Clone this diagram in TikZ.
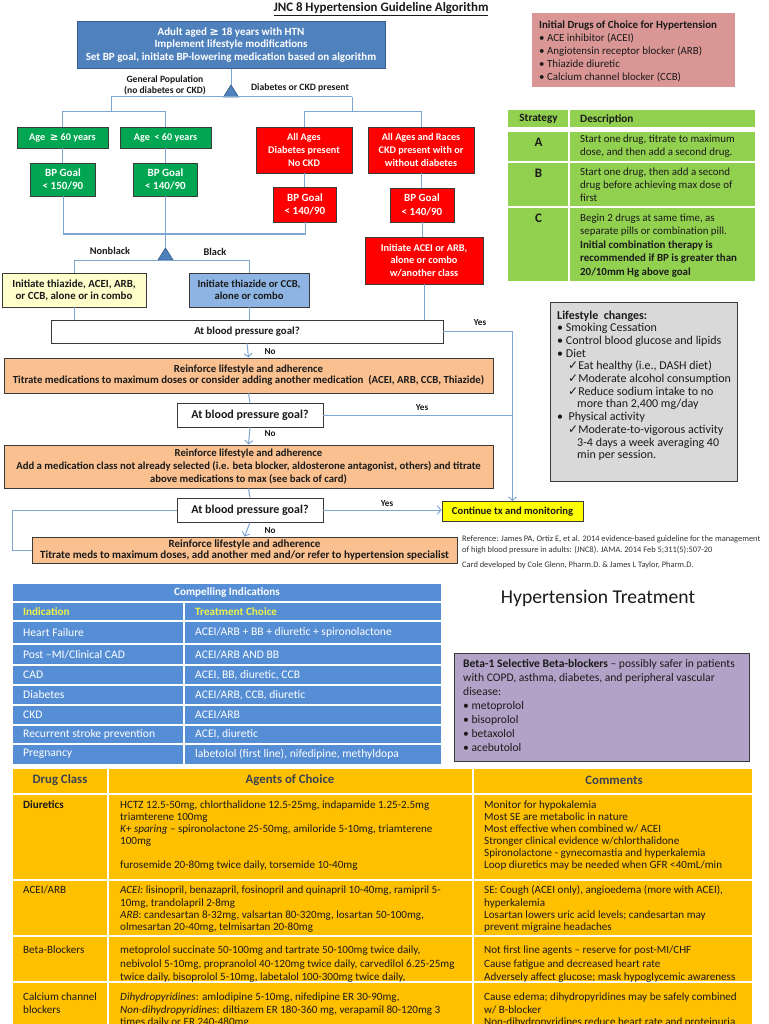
\documentclass[tikz,border=0pt]{standalone}
\usepackage{fontspec}
\setmainfont{Carlito}
\newfontfamily\symf{DejaVu Sans}
\usetikzlibrary{arrows.meta}
\newcommand\fsz[2]{\fontsize{#1}{#2}\selectfont}
\newcommand\ckm{{\symf ✓}}
\newcommand\gee{{\symf\bfseries ≥}}
\definecolor{tblue}{HTML}{4F81BD}
\definecolor{tborder}{HTML}{385D8A}
\definecolor{fgreen}{HTML}{00A651}
\definecolor{fred}{HTML}{FF0000}
\definecolor{bordc}{HTML}{3A3A3A}
\definecolor{lineblue}{HTML}{7FA5D3}
\definecolor{lyellow}{HTML}{FFFFCC}
\definecolor{lblue}{HTML}{8DB4E2}
\definecolor{forange}{HTML}{FAC090}
\definecolor{cyellow}{HTML}{FFFF00}
\definecolor{pinkc}{HTML}{D99694}
\definecolor{sgreen}{HTML}{92D050}
\definecolor{lgray}{HTML}{D9D9D9}
\definecolor{ciblue}{HTML}{558ED5}
\definecolor{ciyel}{HTML}{EEF24A}
\definecolor{lav}{HTML}{B3A2C7}
\definecolor{dorange}{HTML}{FFC000}
\definecolor{dhead}{HTML}{3B4252}
\definecolor{txtc}{HTML}{1A1A1A}
\begin{document}
\begin{tikzpicture}[x=1pt,y=-1pt,
  conn/.style={draw=lineblue, line width=1pt},
  arr/.style={conn, -{Straight Barb[length=3.5pt,width=8pt]}},
  fbox/.style={draw=bordc, line width=0.9pt, inner sep=0pt, align=center, font=\fsz{10.2}{12.8}\bfseries},
  wh/.style 2 args={minimum width=#1pt, minimum height=#2pt},
  gbox/.style={fbox, fill=fgreen, text=white},
  rbox/.style={fbox, fill=fred, text=white},
  qbox/.style={fbox, fill=white, text=txtc, font=\fsz{12}{12}\bfseries},
  obox/.style={fbox, fill=forange, text=txtc, font=\fsz{10.8}{11.2}\bfseries},
  lab/.style={inner sep=0pt, align=center, font=\fsz{9.6}{11}\bfseries, text=txtc},
  yn/.style={inner sep=0pt, font=\fsz{9.2}{10}\bfseries, text=txtc},
  para/.style={inner sep=0pt, anchor=base west, align=left, text=txtc},
  cell/.style={inner sep=0pt, anchor=base west, align=left, text=txtc, font=\fsz{11.1}{11.9}},
  citx/.style={inner sep=0pt, anchor=west, text=white, font=\fsz{11.6}{12}},
]
\useasboundingbox (0,0) rectangle (768,1024);
\fill[white] (0,0) rectangle (768,1024);

% ---------- title ----------
\node[inner sep=0pt, font=\fsz{12.9}{14}\bfseries, text=txtc] (title) at (381,9) {\underline{JNC 8 Hypertension Guideline Algorithm}};

% ---------- flowchart nodes ----------
\node[fbox, fill=tblue, draw=tborder, text=white, wh={308}{47}, font=\fsz{11}{12.2}\bfseries] (top) at (231,45)
  {Adult aged \gee{} 18 years with HTN\\Implement lifestyle modifications\\Set BP goal, initiate BP-lowering medication based on algorithm};

\filldraw[fill=tblue, draw=tborder, line width=0.7pt] (231,85) -- (238.5,97) -- (223.5,97) -- cycle;
\coordinate (tri1) at (231,85);
\node[lab] (gp) at (165,85.5) {General Population\\(no diabetes or CKD)};
\node[lab, font=\fsz{9.7}{11}\bfseries] (dcp) at (300,88) {Diabetes or CKD present};

\node[gbox, wh={91}{21}] (age1) at (62.5,137.5) {Age \ \gee{} 60 years};
\node[gbox, wh={91}{21}] (age2) at (165.5,137.5) {Age \ < 60 years};
\node[gbox, wh={65}{33}, font=\fsz{11}{13.3}\bfseries] (goal1) at (63,179.5) {BP Goal\\< 150/90};
\node[gbox, wh={64}{33}, font=\fsz{11}{13.3}\bfseries] (goal2) at (165.5,179.5) {BP Goal\\< 140/90};

\node[rbox, wh={96}{46}] (dm) at (304,150) {All Ages\\Diabetes present\\No CKD};
\node[rbox, wh={106}{46}] (ckd) at (421,150) {All Ages and Races\\CKD present with or\\without diabetes};
\node[rbox, wh={63}{35}, font=\fsz{11}{13.3}\bfseries] (goal3) at (305,204.5) {BP Goal\\< 140/90};
\node[rbox, wh={64}{34}, font=\fsz{11}{13.3}\bfseries] (goal4) at (422,205) {BP Goal\\< 140/90};
\node[rbox, wh={118}{47}, font=\fsz{10.3}{12.2}\bfseries] (init3) at (424,260.5) {Initiate ACEI or ARB,\\alone or combo\\w/another class};

\filldraw[fill=tblue, draw=tborder, line width=0.7pt] (165.5,248) -- (173,260) -- (158,260) -- cycle;
\coordinate (tri2) at (165.5,248);
\node[lab, font=\fsz{10.3}{11}\bfseries] (nb) at (110,251) {Nonblack};
\node[lab, font=\fsz{10.3}{11}\bfseries] (bl) at (215,252) {Black};

\node[fbox, fill=lyellow, text=txtc, wh={144}{34}, font=\fsz{10.9}{12}\bfseries] (ini1) at (74,290) {Initiate thiazide, ACEI, ARB,\\or CCB, alone or in combo};
\node[fbox, fill=lblue, text=txtc, wh={120}{34}, font=\fsz{10.6}{12}\bfseries] (ini2) at (249,290) {Initiate thiazide or CCB,\\alone or combo};

\node[qbox, wh={392}{23}, font=\fsz{10.8}{12}\bfseries] (q1) at (247,331.5) {At blood pressure goal?};
\node[obox, wh={489}{35}] (o1) at (248.5,375.5) {Reinforce lifestyle and adherence\\Titrate medications to maximum doses or consider adding another medication \ (ACEI, ARB, CCB, Thiazide)};
\node[qbox, wh={146}{24}] (q2) at (250,415) {At blood pressure goal?};
\node[obox, wh={489}{43}, font=\fsz{10.7}{13}\bfseries] (o2) at (248.5,466.5) {Reinforce lifestyle and adherence\\Add a medication class not already selected (i.e. beta blocker, aldosterone antagonist, others) and titrate\\above medications to max (see back of card)};
\node[qbox, wh={146}{24}] (q3) at (250,510) {At blood pressure goal?};
\node[fbox, fill=cyellow, text=txtc, wh={141}{20}, font=\fsz{10.6}{11}\bfseries] (cont) at (512.5,511.5) {Continue tx and monitoring};
\node[obox, wh={425}{26}, font=\fsz{11}{11.5}\bfseries] (o3) at (244.5,550) {Reinforce lifestyle and adherence\\Titrate meds to maximum doses, add another med and/or refer to hypertension specialist};

% ---------- flowchart connectors ----------
\coordinate (h1b) at (0,112);
\coordinate (j1) at (111,97);
\coordinate (j2) at (352,97);
\draw[conn] (top.south) -- (tri1);
\draw[conn] (j1) -- (j2);
\draw[conn] (j1) -- (j1 |- h1b);
\draw[conn] (j2) -- (j2 |- h1b);
\draw[conn] (age1.north) -- (age1.north |- h1b) -- (age2.north |- h1b) -- (age2.north);
\draw[conn] (dm.north) -- (dm.north |- h1b) -- (ckd.north |- h1b) -- (ckd.north);
\draw[conn] (age1.south) -- (age1.south |- goal1.north);
\draw[conn] (age2.south) -- (goal2.north);
\draw[conn] (dm.south) -- (dm.south |- goal3.north);
\draw[conn] (ckd.south) -- (ckd.south |- goal4.north);
\draw[conn] (goal4.south) -- (goal4.south |- init3.north);
\coordinate (h2) at (0,234);
\draw[conn] (goal1.south) -- (goal1.south |- h2) -- (goal3.south |- h2) -- (goal3.south);
\draw[conn] (goal2.south) -- (tri2);
\coordinate (h3) at (0,260);
\draw[conn] (ini1.north) -- (ini1.north |- h3) -- (ini2.north |- h3) -- (ini2.north);
\draw[conn] (ini1.south) -- (ini1.south |- q1.north);
\draw[conn] (ini2.south) -- (ini2.south |- q1.north);
\draw[conn] (init3.south) -- (init3.south |- q1.north);

\draw[arr] (q1.east) -- (cont.north |- q1.east) -- (cont.north);
\draw[conn] (q2.east) -- (cont.north |- q2.east);
\draw[arr] (q3.east) -- (q3.east -| cont.west);
\draw[arr] (q1.south) -- (o1.north);
\draw[conn] (o1.south) -- (q2.north);
\draw[arr] (q2.south) -- (o2.north);
\draw[conn] (o2.south) -- (q3.north);
\draw[arr] (q3.south) -- (o3.north);
\coordinate (lx) at (12,0);
\draw[conn] (q3.west) -- (q3.west -| lx) |- (o3.west);

\node[yn] (y1) at (480,323) {Yes};
\node[yn] (y2) at (422,408) {Yes};
\node[yn] (y3) at (387,504) {Yes};
\node[yn] (n1) at (270,352) {No};
\node[yn] (n2) at (270,434) {No};
\node[yn] (n3) at (270,531) {No};

\node[para, font=\fsz{8.4}{11}, text=black!80] (ref) at (462,552.5) {Reference: James PA, Ortiz E, et al. 2014 evidence-based guideline for the management\\of high blood pressure in adults: (JNC8). JAMA. 2014 Feb 5;311(5):507-20};
\node[para, font=\fsz{8.4}{11}, text=black!80] (card) at (462,567) {Card developed by Cole Glenn, Pharm.D. \& James L Taylor, Pharm.D.};

% ---------- initial drugs ----------
\node[fill=pinkc, inner sep=0pt, minimum width=203pt, minimum height=74pt] (drugs) at (633.5,50) {};
\node[para, font=\fsz{10.9}{13.2}] (drugtx) at (539,81) {\textbf{Initial Drugs of Choice for Hypertension}\\• ACE inhibitor (ACEI)\\• Angiotensin receptor blocker (ARB)\\• Thiazide diuretic\\• Calcium channel blocker (CCB)};

% ---------- strategy table ----------
\fill[sgreen] (508,110) rectangle (755,127);
\fill[sgreen] (508,132) rectangle (755,281);
\draw[white, line width=1.5pt] (508,162) -- (755,162);
\draw[white, line width=1.5pt] (508,207) -- (755,207);
\draw[white, line width=1.5pt] (569,110) -- (569,281);
\node[inner sep=0pt, font=\fsz{11.2}{12}\bfseries, text=txtc] (sh1) at (538.5,119) {Strategy};
\node[inner sep=0pt, anchor=west, font=\fsz{11.2}{12}\bfseries, text=txtc] (sh2) at (580,119) {Description};
\node[inner sep=0pt, font=\fsz{13}{13}\bfseries, text=txtc] (sa) at (538.5,142) {A};
\node[inner sep=0pt, font=\fsz{13}{13}\bfseries, text=txtc] (sb) at (538.5,173) {B};
\node[inner sep=0pt, font=\fsz{13}{13}\bfseries, text=txtc] (sc) at (538.5,218) {C};
\node[para, font=\fsz{10.9}{13.2}] (da) at (580,155.8) {Start one drug, titrate to maximum\\dose, and then add a second drug.};
\node[para, font=\fsz{10.9}{13.2}] (db) at (580,202) {Start one drug, then add a second\\drug before achieving max dose of\\first};
\node[para, font=\fsz{10.9}{13.4}] (dc) at (580,275.2) {Begin 2 drugs at same time, as\\separate pills or combination pill.\\\textbf{Initial combination therapy is}\\\textbf{recommended if BP is greater than}\\\textbf{20/10mm Hg above goal}};

% ---------- lifestyle ----------
\node[fill=lgray, draw=bordc, line width=0.8pt, inner sep=0pt, minimum width=187pt, minimum height=179pt] (life) at (643.5,391.5) {};
\node[para, font=\fsz{12}{12.7}] (lifetx) at (557,458.7) {\textbf{Lifestyle\ \ changes:}\\
• Smoking Cessation\\
• Control blood glucose and lipids\\
• Diet\\
\hspace*{11pt}\ckm Eat healthy (i.e., DASH diet)\\
\hspace*{11pt}\ckm Moderate alcohol consumption\\
\hspace*{11pt}\ckm Reduce sodium intake to no\\
\hspace*{20pt}more than 2,400 mg/day\\
•\ \ Physical activity\\
\hspace*{11pt}\ckm Moderate-to-vigorous activity\\
\hspace*{20pt}3-4 days a week averaging 40\\
\hspace*{20pt}min per session.};

% ---------- compelling indications ----------
\fill[ciblue] (13,584) rectangle (441,601);
\fill[ciblue] (13,603) rectangle (441,764);
\foreach \yy in {621,644,665,685,705,725,744} \draw[white, line width=1.3pt] (13,\yy) -- (441,\yy);
\draw[white, line width=1.3pt] (184,603) -- (184,764);
\node[inner sep=0pt, font=\fsz{11.2}{11}\bfseries, text=white] (cit) at (227,592.5) {Compelling Indications};
\node[citx, font=\fsz{11.2}{11}\bfseries, text=ciyel] (cih1) at (23,612) {Indication};
\node[citx, font=\fsz{11.2}{11}\bfseries, text=ciyel] (cih2) at (195,612) {Treatment Choice};
\node[citx] (ca1) at (23,632.5) {Heart Failure};
\node[citx] (cb1) at (195,632.5) {ACEI/ARB + BB + diuretic + spironolactone};
\node[citx] (ca2) at (23,654.5) {Post –MI/Clinical CAD};
\node[citx] (cb2) at (195,654.5) {ACEI/ARB AND BB};
\node[citx] (ca3) at (23,675) {CAD};
\node[citx] (cb3) at (195,675) {ACEI, BB, diuretic, CCB};
\node[citx] (ca4) at (23,695) {Diabetes};
\node[citx] (cb4) at (195,695) {ACEI/ARB, CCB, diuretic};
\node[citx] (ca5) at (23,715) {CKD};
\node[citx] (cb5) at (195,715) {ACEI/ARB};
\node[citx] (ca6) at (23,734.5) {Recurrent stroke prevention};
\node[citx] (cb6) at (195,734.5) {ACEI, diuretic};
\node[citx] (ca7) at (23,754) {Pregnancy};
\node[citx] (cb7) at (195,754) {labetolol (first line), nifedipine, methyldopa};

% ---------- hypertension treatment + beta box ----------
\node[inner sep=0pt, font=\fsz{19.6}{22}, text=txtc] (htt) at (598,598) {Hypertension Treatment};
\node[fill=lav, draw=bordc, line width=0.8pt, inner sep=0pt, minimum width=295pt, minimum height=108pt] (beta) at (601.5,707) {};
\node[para, font=\fsz{11.6}{14}] (betatx) at (463,751.8) {\textbf{Beta-1 Selective Beta-blockers} – possibly safer in patients\\with COPD, asthma, diabetes, and peripheral vascular\\disease:\\• metoprolol\\• bisoprolol\\• betaxolol\\• acebutolol};

% ---------- drug table ----------
\fill[dorange] (13,769) rectangle (752,1030);
\draw[white, line width=2pt] (13,794) -- (752,794);
\foreach \yy in {880,936,982} \draw[white, line width=1.5pt] (13,\yy) -- (752,\yy);
\draw[white, line width=1.5pt] (108,769) -- (108,1030);
\draw[white, line width=1.5pt] (473,769) -- (473,1030);
\node[inner sep=0pt, font=\fsz{12.8}{13}\bfseries, text=dhead] (dth1) at (60,780.5) {Drug Class};
\node[inner sep=0pt, font=\fsz{12.8}{13}\bfseries, text=dhead] (dth2) at (290,780.5) {Agents of Choice};
\node[inner sep=0pt, font=\fsz{12.8}{13}\bfseries, text=dhead] (dth3) at (614,780.5) {Comments};

\node[cell] (r1a) at (23,808.7) {\textbf{Diuretics}};
\node[cell] (r1b) at (120,868.2) {HCTZ 12.5-50mg, chlorthalidone 12.5-25mg, indapamide 1.25-2.5mg\\triamterene 100mg\\\textit{K+ sparing} – spironolactone 25-50mg, amiloride 5-10mg, triamterene\\100mg\\ \\furosemide 20-80mg twice daily, torsemide 10-40mg};
\node[cell] (r1c) at (484,868.2) {Monitor for hypokalemia\\Most SE are metabolic in nature\\Most effective when combined w/ ACEI\\Stronger clinical evidence w/chlorthalidone\\Spironolactone - gynecomastia and hyperkalemia\\Loop diuretics may be needed when GFR <40mL/min};

\node[cell] (r2a) at (23,893.7) {ACEI/ARB};
\node[cell, font=\fsz{11.1}{12.3}] (r2b) at (120,930.6) {\textit{ACEI:} lisinopril, benazapril, fosinopril and quinapril 10-40mg, ramipril 5-\\10mg, trandolapril 2-8mg\\\textit{ARB}: candesartan 8-32mg, valsartan 80-320mg, losartan 50-100mg,\\olmesartan 20-40mg, telmisartan 20-80mg};
\node[cell, font=\fsz{11.1}{12.3}] (r2c) at (484,930.6) {SE: Cough (ACEI only), angioedema (more with ACEI),\\hyperkalemia\\Losartan lowers uric acid levels; candesartan may\\prevent migraine headaches};

\node[cell] (r3a) at (23,953.7) {Beta-Blockers};
\node[cell, font=\fsz{11.1}{13.5}] (r3b) at (120,980.7) {metoprolol succinate 50-100mg and tartrate 50-100mg twice daily,\\nebivolol 5-10mg, propranolol 40-120mg twice daily, carvedilol 6.25-25mg\\twice daily, bisoprolol 5-10mg, labetalol 100-300mg twice daily,};
\node[cell, font=\fsz{11.1}{13.5}] (r3c) at (484,980.7) {Not first line agents – reserve for post-MI/CHF\\Cause fatigue and decreased heart rate\\Adversely affect glucose; mask hypoglycemic awareness};

\node[cell, font=\fsz{11.1}{12.5}] (r4a) at (23,1013.2) {Calcium channel\\blockers};
\node[cell, font=\fsz{11.1}{12.5}] (r4b) at (120,1025.7) {\textit{Dihydropyridines}: amlodipine 5-10mg, nifedipine ER 30-90mg,\\\textit{Non-dihydropyridines}: diltiazem ER 180-360 mg, verapamil 80-120mg 3\\times daily or ER 240-480mg};
\node[cell, font=\fsz{11.1}{12.5}] (r4c) at (484,1025.7) {Cause edema; dihydropyridines may be safely combined\\w/ B-blocker\\Non-dihydropyridines reduce heart rate and proteinuria};
\end{tikzpicture}
\end{document}
